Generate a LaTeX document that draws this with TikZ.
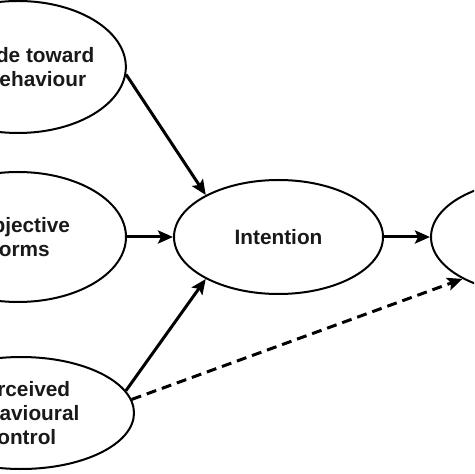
\documentclass[tikz,border=0pt]{standalone}
\usepackage{fontspec}
\setmainfont{Liberation Sans}
\usetikzlibrary{positioning,shapes.geometric,arrows.meta}

\begin{document}
\begin{tikzpicture}[
  x=0.5pt, y=-0.5pt,
  every node/.style={font=\fontsize{10.4}{12.2}\selectfont\bfseries},
  oval/.style={draw, ellipse, line width=1pt, align=center, inner sep=0pt, text=black!90},
  arrow/.style={-{Stealth[length=7.5pt, width=6.5pt, inset=1.5pt]}, line width=1.5pt}
]
\useasboundingbox (0,0) rectangle (474,474);
\clip (0,0) rectangle (474,474);

\node[oval, minimum width=108pt, minimum height=65pt] (subj) at (18,237) {Subjective\\norms};
\node[oval, minimum width=107pt, minimum height=66pt, above=18.5pt of subj] (att) {Attitude toward\\the behaviour};
\node[oval, minimum width=113pt, minimum height=56pt, below=26.5pt of subj, xshift=1.5pt] (pbc) {Perceived\\behavioural\\control};
\node[oval, minimum width=104.5pt, minimum height=57pt, right=23pt of subj] (int) {Intention};
\node[oval, minimum width=104pt, minimum height=57pt, right=23pt of int] (beh) {Behaviour};

\draw[arrow] (att.-4) -- (int.150);
\draw[arrow] (subj.east) -- (int.west);
\draw[arrow] (pbc.12) -- (int.210);
\draw[arrow] (int.east) -- (beh.west);
\draw[arrow, dash pattern=on 5pt off 3pt] (pbc.7) -- (beh.210);
\end{tikzpicture}
\end{document}
